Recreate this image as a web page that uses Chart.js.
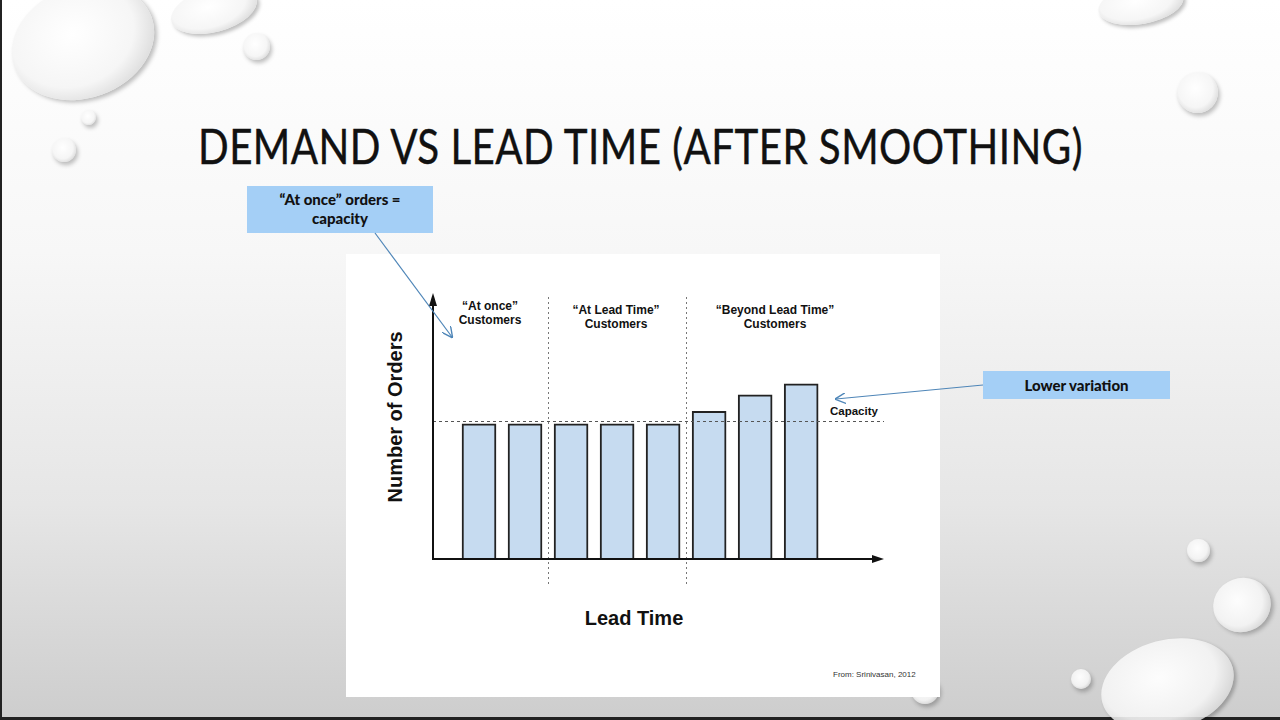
<!DOCTYPE html>
<html>
<head>
<meta charset="utf-8">
<script src="https://cdn.jsdelivr.net/npm/chart.js@4"></script>
<style>
  html, body { margin: 0; padding: 0; }
  body { width: 1280px; height: 720px; overflow: hidden; position: relative;
         background: linear-gradient(180deg, #ffffff 0%, #f7f7f7 35%, #e6e6e6 70%, #cdcdcd 100%);
         font-family: "Liberation Sans", Arial, sans-serif; }
  .edge-left { position: absolute; left: 0; top: 0; width: 2px; height: 720px; background: #222; }
  .edge-bottom { position: absolute; left: 0; bottom: 0; width: 1280px; height: 3px; background: #222; }
  .drop { position: absolute; border-radius: 50%;
          background: radial-gradient(ellipse at 45% 40%, rgba(255,255,255,0.95) 0%, rgba(245,245,245,0.9) 55%, rgba(200,200,200,0.8) 85%, rgba(255,255,255,0.9) 100%);
          box-shadow: 2px 3px 4px rgba(0,0,0,0.25); }
  .title { position: absolute; left: 198px; top: 117px; font-family: Lato, "Open Sans", sans-serif;
           font-size: 48px; color: #111; white-space: nowrap; transform-origin: 0 0; letter-spacing: 0.5px;
           -webkit-text-stroke: 0.4px #111; }
  .panel { position: absolute; left: 346px; top: 254px; width: 594px; height: 443px; background: #fff; }
  .callout { position: absolute; background: #a4cff6; color: #111; font-family: Lato, sans-serif;
             font-weight: 900; font-size: 15px; text-align: center; line-height: 19px; }
  .lbl { position: absolute; font-weight: bold; color: #111; text-align: center; white-space: nowrap; }
  canvas { position: absolute; left: 0; top: 0; }
  svg { position: absolute; left: 0; top: 0; }
</style>
</head>
<body>
<div class="edge-left"></div>
<div class="edge-bottom"></div>

<div class="drop" style="left:10px;top:-14px;width:146px;height:112px;transform:rotate(-20deg)"></div>
<div class="drop" style="left:170px;top:-12px;width:88px;height:44px;transform:rotate(-15deg)"></div>
<div class="drop" style="left:243px;top:33px;width:27px;height:27px"></div>
<div class="drop" style="left:81px;top:110px;width:15px;height:15px"></div>
<div class="drop" style="left:52px;top:138px;width:24px;height:24px"></div>
<div class="drop" style="left:1098px;top:-16px;width:86px;height:40px;transform:rotate(-10deg)"></div>
<div class="drop" style="left:1177px;top:72px;width:41px;height:41px"></div>
<div class="drop" style="left:1187px;top:539px;width:23px;height:23px"></div>
<div class="drop" style="left:1213px;top:578px;width:58px;height:54px;transform:rotate(-20deg)"></div>
<div class="drop" style="left:1100px;top:640px;width:135px;height:90px;transform:rotate(-15deg)"></div>
<div class="drop" style="left:1071px;top:669px;width:20px;height:20px"></div>
<div class="drop" style="left:911px;top:676px;width:28px;height:28px"></div>

<div class="title" id="title">DEMAND VS LEAD TIME (AFTER SMOOTHING)</div>

<div class="panel"></div>

<div class="callout" style="left:247px;top:186px;width:186px;height:47px;padding-top:4px;box-sizing:border-box">“At once” orders =<br>capacity</div>
<div class="callout" style="left:983px;top:371px;width:187px;height:28px;line-height:28px">Lower variation</div>

<div class="lbl" style="left:440px;top:299px;width:100px;font-size:12px;line-height:14px">“At once”<br>Customers</div>
<div class="lbl" style="left:556px;top:303px;width:120px;font-size:12px;line-height:14px">“At Lead Time”<br>Customers</div>
<div class="lbl" style="left:705px;top:303px;width:140px;font-size:12px;line-height:14px">“Beyond Lead Time”<br>Customers</div>
<div class="lbl" style="left:830px;top:405px;font-size:11.5px">Capacity</div>
<div class="lbl" style="left:315px;top:411px;width:160px;font-size:20px;transform:rotate(-90deg)">Number of Orders</div>
<div class="lbl" style="left:574px;top:607px;width:120px;font-size:20px">Lead Time</div>
<div class="lbl" style="left:833px;top:670px;font-size:8px;font-weight:normal;color:#333">From: Srinivasan, 2012</div>

<canvas id="chart" width="1280" height="720"></canvas>

<svg width="1280" height="720">
  <defs>
    <marker id="open" viewBox="0 0 10 10" refX="9" refY="5" markerWidth="9" markerHeight="9" orient="auto">
      <path d="M0,0 L10,5 L0,10" fill="none" stroke="#4f86b8" stroke-width="1.3"/>
    </marker>
  </defs>
  <line x1="375" y1="233" x2="452" y2="337" stroke="#4f86b8" stroke-width="1.2" marker-end="url(#open)"/>
  <line x1="983" y1="385" x2="836" y2="399" stroke="#4f86b8" stroke-width="1.2" marker-end="url(#open)"/>
</svg>

<script>
// lead time slots (x units) and number of orders in each
const slots = [1, 2, 3, 4, 5, 6, 7, 8];
const orders = [98, 98, 98, 98, 98, 107, 119, 127];
const capacity = 100;
// boundaries between customer groups, in x units
const groupBounds = [2.5, 5.5];
const xMax = 9.8;
const yMax = 190;

const t = document.getElementById('title');
t.style.transform = 'scaleX(' + (885 / t.offsetWidth) + ')';

const overlay = {
  id: 'overlay',
  afterDatasetsDraw(chart) {
    const { ctx, chartArea: a, scales: { x, y } } = chart;
    ctx.save();
    // capacity line
    ctx.strokeStyle = '#555';
    ctx.lineWidth = 1;
    ctx.setLineDash([3, 3]);
    const cy = Math.round(y.getPixelForValue(capacity)) + 0.5;
    ctx.beginPath(); ctx.moveTo(a.left, cy); ctx.lineTo(a.right, cy); ctx.stroke();
    // group separators
    ctx.setLineDash([2, 3]);
    ctx.strokeStyle = '#777';
    groupBounds.forEach(b => {
      const px = Math.round(x.getPixelForValue(b)) + 0.5;
      ctx.beginPath(); ctx.moveTo(px, a.top); ctx.lineTo(px, a.bottom + 26); ctx.stroke();
    });
    // axes with arrow heads
    ctx.setLineDash([]);
    ctx.strokeStyle = '#111';
    ctx.fillStyle = '#111';
    ctx.lineWidth = 2;
    ctx.beginPath();
    ctx.moveTo(a.left, a.top + 6); ctx.lineTo(a.left, a.bottom);
    ctx.lineTo(a.right - 8, a.bottom);
    ctx.stroke();
    ctx.beginPath();
    ctx.moveTo(a.left, a.top - 4); ctx.lineTo(a.left - 4, a.top + 9); ctx.lineTo(a.left + 4, a.top + 9);
    ctx.closePath(); ctx.fill();
    ctx.beginPath();
    ctx.moveTo(a.right, a.bottom); ctx.lineTo(a.right - 12, a.bottom - 4); ctx.lineTo(a.right - 12, a.bottom + 4);
    ctx.closePath(); ctx.fill();
    ctx.restore();
  }
};

new Chart(document.getElementById('chart'), {
  type: 'bar',
  data: {
    datasets: [{
      label: 'Number of Orders',
      data: slots.map((s, i) => ({ x: s, y: orders[i] })),
      backgroundColor: '#c6dbf0',
      borderColor: '#222',
      borderWidth: 2,
      barThickness: 34
    }]
  },
  options: {
    responsive: false,
    animation: false,
    layout: { padding: { left: 433, right: 396, top: 297, bottom: 161 } },
    plugins: { legend: { display: false }, tooltip: { enabled: false } },
    scales: {
      x: { type: 'linear', min: 0, max: xMax, offset: false, display: false },
      y: { min: 0, max: yMax, display: false }
    }
  },
  plugins: [overlay]
});
</script>
</body>
</html>
